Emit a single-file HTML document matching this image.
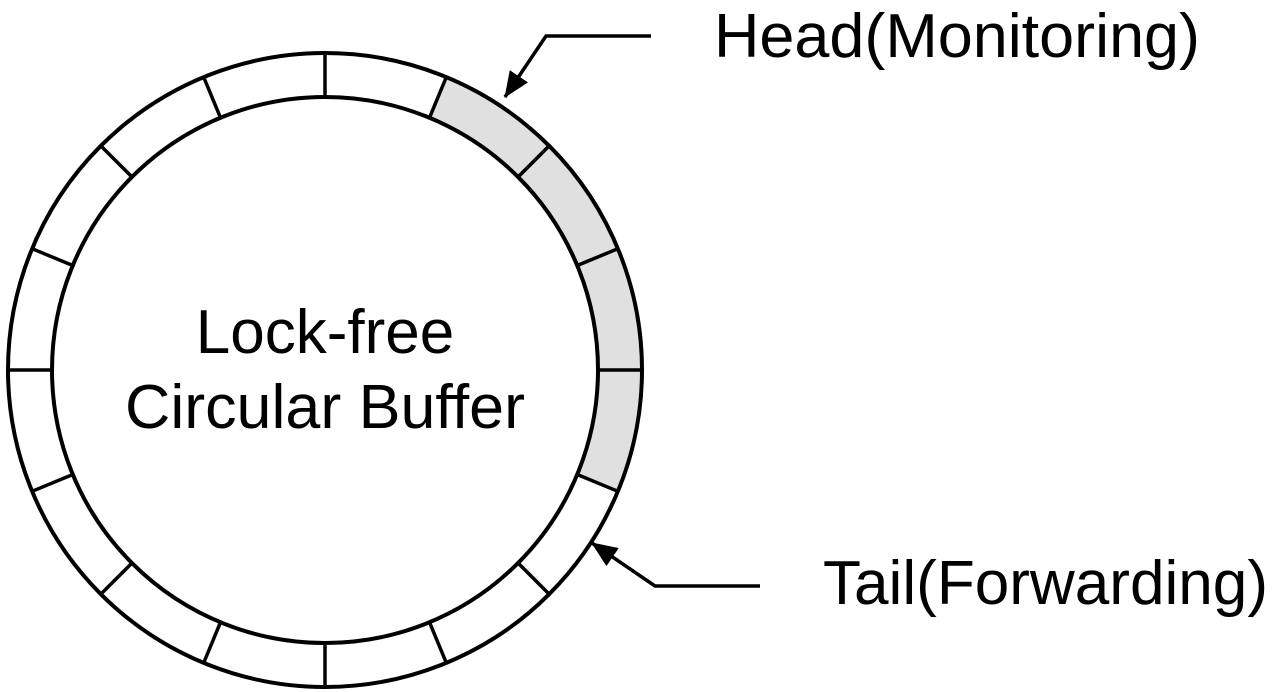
<!DOCTYPE html>
<html><head><style>html,body{margin:0;padding:0;background:#fff;}svg{display:block;}</style></head>
<body>
<svg width="1275" height="692" viewBox="0 0 1275 692" xmlns="http://www.w3.org/2000/svg">
<defs><marker id="ah" markerWidth="26" markerHeight="22" refX="25" refY="11" orient="auto" markerUnits="userSpaceOnUse" viewBox="0 0 26 22"><path d="M0,0 L26,11 L0,22 z" fill="#000"/></marker></defs>
<path d="M446.3,77.1 A317,317 0 0 1 617.9,491.3 L577.2,474.5 A273,273 0 0 0 429.5,117.8 Z" fill="#e0e0e0"/>
<circle cx="325" cy="370" r="317" fill="none" stroke="#000" stroke-width="4"/>
<circle cx="325" cy="370" r="273" fill="none" stroke="#000" stroke-width="4"/>
<g stroke="#000" stroke-width="3.5">
<line x1="325" y1="53" x2="325" y2="97" transform="rotate(0 325 370)"/>
<line x1="325" y1="53" x2="325" y2="97" transform="rotate(22.5 325 370)"/>
<line x1="325" y1="53" x2="325" y2="97" transform="rotate(45 325 370)"/>
<line x1="325" y1="53" x2="325" y2="97" transform="rotate(67.5 325 370)"/>
<line x1="325" y1="53" x2="325" y2="97" transform="rotate(90 325 370)"/>
<line x1="325" y1="53" x2="325" y2="97" transform="rotate(112.5 325 370)"/>
<line x1="325" y1="53" x2="325" y2="97" transform="rotate(135 325 370)"/>
<line x1="325" y1="53" x2="325" y2="97" transform="rotate(157.5 325 370)"/>
<line x1="325" y1="53" x2="325" y2="97" transform="rotate(180 325 370)"/>
<line x1="325" y1="53" x2="325" y2="97" transform="rotate(202.5 325 370)"/>
<line x1="325" y1="53" x2="325" y2="97" transform="rotate(225 325 370)"/>
<line x1="325" y1="53" x2="325" y2="97" transform="rotate(247.5 325 370)"/>
<line x1="325" y1="53" x2="325" y2="97" transform="rotate(270 325 370)"/>
<line x1="325" y1="53" x2="325" y2="97" transform="rotate(292.5 325 370)"/>
<line x1="325" y1="53" x2="325" y2="97" transform="rotate(315 325 370)"/>
<line x1="325" y1="53" x2="325" y2="97" transform="rotate(337.5 325 370)"/>
</g>
<polyline points="651,36 546,36 505,97" fill="none" stroke="#000" stroke-width="3.5" marker-end="url(#ah)"/>
<polyline points="760,586 655,586 592,543" fill="none" stroke="#000" stroke-width="3.5" marker-end="url(#ah)"/>
<g font-family="Liberation Sans, Arial, sans-serif" font-size="62" fill="#000">
<text x="714" y="57" textLength="486" lengthAdjust="spacingAndGlyphs">Head(Monitoring)</text>
<text x="823" y="604" textLength="445" lengthAdjust="spacingAndGlyphs">Tail(Forwarding)</text>
<text x="325" y="353" text-anchor="middle">Lock-free</text>
<text x="325" y="428" text-anchor="middle" textLength="400" lengthAdjust="spacingAndGlyphs">Circular Buffer</text>
</g>
</svg>
</body></html>
